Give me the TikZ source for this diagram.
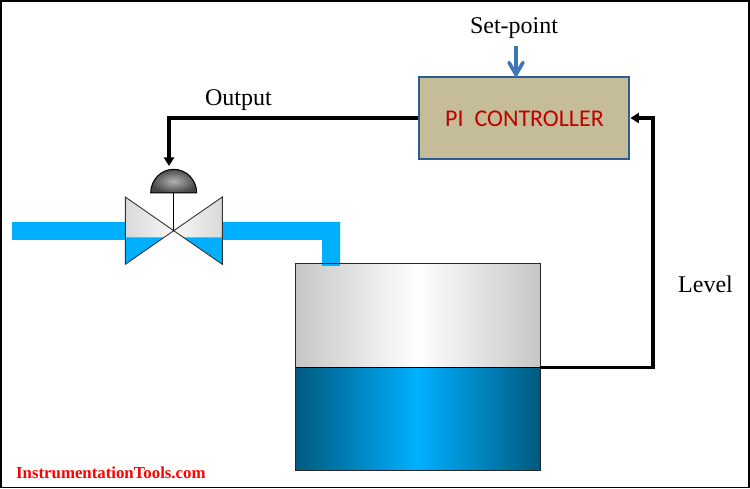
\documentclass[tikz,border=0pt]{standalone}
\usepackage{fontspec}
\setmainfont{Liberation Serif}
\newfontfamily\ctlfont{Carlito}
\usetikzlibrary{arrows.meta,calc}
\definecolor{pipeblue}{HTML}{00B0FF}
\definecolor{tankdark}{HTML}{005A80}
\definecolor{tanklight}{HTML}{C6C6C6}
\definecolor{khaki}{HTML}{C4BD97}
\definecolor{ctlborder}{HTML}{2F5C94}
\definecolor{setblue}{HTML}{3F75B8}
\definecolor{ctltext}{HTML}{C00000}
\tikzset{
  lbl/.style={font=\fontsize{24}{28}\selectfont,inner sep=0pt,anchor=base},
  signal/.style={draw=black,line width=3.3pt,-{Triangle[length=8.5pt,width=10pt]}},
  pipe/.style={fill=pipeblue,draw=none},
  tanktop/.style={left color=tanklight,right color=tanklight,middle color=white,draw=none},
  tankbot/.style={left color=tankdark,right color=tankdark,middle color=pipeblue,draw=none},
  ctlbox/.style={fill=khaki,draw=ctlborder,line width=2.2pt,inner sep=0pt,minimum width=210pt,minimum height=81.5pt}
}
\begin{document}
\begin{tikzpicture}[x=1pt,y=-1pt]
\useasboundingbox (0,0) rectangle (750,489);
\fill[white] (0,0) rectangle (750,489);
\draw[black,line width=1.3pt] (1,1) rectangle (749,487.5);
% pipes
\fill[pipe] (12,222) rectangle (125,240);
\fill[pipe] (222,222) -- (340,222) -- (340,266.5) -- (322,266.5) -- (322,240) -- (222,240) -- cycle;
% tank
\shade[tanktop] (295.5,264) rectangle (540,367.5);
\shade[tankbot] (295.5,367.5) rectangle (540,470.5);
\fill[pipe] (322,262) rectangle (340,266.5);
\draw[black!85,line width=1pt] (295.5,264) rectangle (540,470.5);
\draw[black,line width=1pt] (295.5,367.8) -- (540,367.8);
\coordinate (tankport) at (540,367.5);
% valve
\coordinate (vc) at (173.7,230.7);
\shade[left color=black!15,right color=black!3] (125.3,197) -- (vc) -- (125.3,264.3) -- cycle;
\shade[left color=black!3,right color=black!15] (222.3,197) -- (vc) -- (222.3,264.3) -- cycle;
\fill[pipeblue] (125.3,237.3) -- (164.1,237.3) -- (125.3,264.3) -- cycle;
\fill[pipeblue] (222.3,237.3) -- (183.3,237.3) -- (222.3,264.3) -- cycle;
\draw[black!80,line width=0.9pt,line join=miter] (vc) -- (125.3,197) -- (125.3,264.3) -- (222.3,197) -- (222.3,264.3) -- cycle;
\draw[black,line width=0.9pt] (173.7,193) -- (vc);
\shade[inner color=black!30,outer color=black!72,draw=black,line width=1pt] (150.7,193) arc[start angle=180,end angle=0,x radius=23,y radius=-23.7] -- cycle;
\coordinate (dome) at (169,166);
% controller
\node[ctlbox] (ctl) at (524.3,118) {};
\node[font=\ctlfont\fontsize{24}{28}\selectfont,text=ctltext,inner sep=0pt] (ctllabel) at (524.5,118.5) {PI\ \ CONTROLLER};
% signals
\draw[signal] (tankport) -- (653,367.5) -- (653,118) -- (ctl.east);
\draw[signal] (ctl.west) -- (169,118) -- (dome);
\coordinate (spin) at (516,46);
\draw[draw=setblue,line width=3.6pt] (spin) -- (516,74);
\draw[draw=setblue,line width=3.6pt,line cap=round,line join=miter] (509,62.5) -- (516,74.5) -- (523,62.5);
% labels
\node[lbl] (lsp) at (514,34) {Set-point};
\node[lbl] (lout) at (238.5,106) {Output};
\node[lbl] (llev) at (705.5,292) {Level};
\node[font=\bfseries\fontsize{16.8}{20}\selectfont,text=red,inner sep=0pt,anchor=base west] (lsite) at (16,478) {InstrumentationTools.com};
\end{tikzpicture}
\end{document}
